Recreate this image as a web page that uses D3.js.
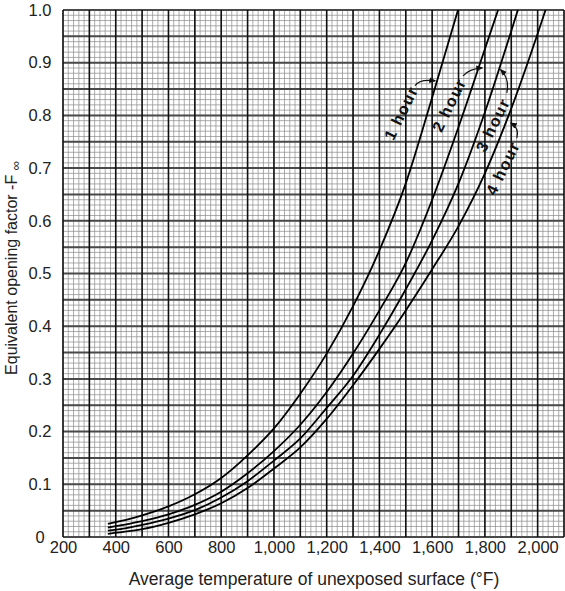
<!DOCTYPE html>
<html lang="en">
<head>
  <meta charset="UTF-8">
  <title>Equivalent opening factor</title>
  <style>
    body { margin: 0; background: #fff; }
    .axis text {
      font-family: "Liberation Sans", Arial, sans-serif;
      font-size: 16.5px;
      fill: #222;
    }
    .axis path { display: none; }
    .title {
      font-family: "Liberation Sans", Arial, sans-serif;
      fill: #222;
    }
    .curve-label {
      font-family: "Liberation Sans", Arial, sans-serif;
      font-size: 16px;
      font-weight: bold;
      fill: #111;
      text-anchor: middle;
    }
  </style>
</head>
<body>
  <div id="chart"></div>
  <script src="https://cdnjs.cloudflare.com/ajax/libs/d3/7.8.5/d3.min.js"></script>
  <script>
    // temperatures (°F) and F values
    var temp1 = [370, 450, 500, 600, 700, 800, 900, 1000, 1100, 1200, 1300, 1400, 1500, 1600, 1698]
    var fac1 = [0.025, 0.034, 0.041, 0.058, 0.081, 0.112, 0.155, 0.206, 0.272, 0.348, 0.438, 0.544, 0.671, 0.834, 1.0]
    var temp2 = [370, 450, 500, 600, 700, 800, 900, 1000, 1100, 1200, 1300, 1400, 1500, 1600, 1700, 1800, 1850]
    var fac2 = [0.018, 0.025, 0.030, 0.043, 0.061, 0.086, 0.121, 0.163, 0.213, 0.275, 0.348, 0.43, 0.52, 0.64, 0.778, 0.926, 1.0]
    var temp3 = [370, 450, 500, 600, 700, 800, 900, 1000, 1100, 1200, 1300, 1400, 1500, 1600, 1700, 1800, 1900, 1925]
    var fac3 = [0.012, 0.018, 0.023, 0.035, 0.051, 0.075, 0.106, 0.145, 0.187, 0.245, 0.306, 0.384, 0.47, 0.563, 0.671, 0.806, 0.96, 1.0]
    var temp4 = [370, 450, 500, 600, 700, 800, 900, 1000, 1100, 1200, 1300, 1400, 1500, 1600, 1700, 1800, 1900, 2000, 2030]
    var fac4 = [0.006, 0.011, 0.015, 0.027, 0.043, 0.064, 0.093, 0.13, 0.17, 0.224, 0.288, 0.357, 0.43, 0.508, 0.59, 0.69, 0.813, 0.955, 1.0]

    var seriesNames = ['1 hour', '2 hour', '3 hour', '4 hour']
    var xTicks = [200, 400, 600, 800, 1000, 1200, 1400, 1600, 1800, 2000]
    var yTicks = [0, 0.1, 0.2, 0.3, 0.4, 0.5, 0.6, 0.7, 0.8, 0.9, 1.0]

    // where the hand lettered labels sit, in data units
    var labelTemp = [1482, 1664, 1830, 1868]
    var labelFac = [0.805, 0.82, 0.782, 0.70]

    var width = 565
    var height = 591
    var padding = {left: 63, right: 1, top: 10, bottom: 54}

    var svg = d3.select('#chart')
      .append('svg')
      .attr('width', width)
      .attr('height', height)

    var xScale = d3.scaleLinear()
      .domain([200, 2100])
      .range([padding.left, width - padding.right])
    var yScale = d3.scaleLinear()
      .domain([0, 1])
      .range([height - padding.bottom, padding.top])

    var x0 = xScale.range()[0], x1 = xScale.range()[1]
    var y0 = yScale.range()[0], y1 = yScale.range()[1]

    // graph paper: fine lines every 20°F / 0.01, heavy every 100°F / 0.05
    var grid = svg.append('g').attr('class', 'grid')
    var minorX = d3.range(0, 96).map(function (i) { return 200 + i * 20 })
    var minorY = d3.range(0, 101).map(function (i) { return i / 100 })
    var majorX = d3.range(0, 20).map(function (i) { return 200 + i * 100 })
    var majorY = d3.range(0, 21).map(function (i) { return i / 20 })

    grid.selectAll('.minx').data(minorX).enter().append('line')
      .attr('x1', function (d) { return xScale(d) })
      .attr('x2', function (d) { return xScale(d) })
      .attr('y1', y0).attr('y2', y1)
      .attr('stroke', '#8a8a8a').attr('stroke-width', 0.7)
    grid.selectAll('.miny').data(minorY).enter().append('line')
      .attr('y1', function (d) { return yScale(d) })
      .attr('y2', function (d) { return yScale(d) })
      .attr('x1', x0).attr('x2', x1)
      .attr('stroke', '#8a8a8a').attr('stroke-width', 0.7)
    grid.selectAll('.majy').data(majorY).enter().append('line')
      .attr('y1', function (d) { return yScale(d) })
      .attr('y2', function (d) { return yScale(d) })
      .attr('x1', x0).attr('x2', x1)
      .attr('stroke', '#4a4a4a').attr('stroke-width', 2)
    grid.selectAll('.majx').data(majorX).enter().append('line')
      .attr('x1', function (d) { return xScale(d) })
      .attr('x2', function (d) { return xScale(d) })
      .attr('y1', y0).attr('y2', y1)
      .attr('stroke', '#111').attr('stroke-width', 1.6)

    // curves
    var series = [
      {name: seriesNames[0], t: temp1, f: fac1},
      {name: seriesNames[1], t: temp2, f: fac2},
      {name: seriesNames[2], t: temp3, f: fac3},
      {name: seriesNames[3], t: temp4, f: fac4}
    ]
    var line = d3.line()
      .x(function (d) { return xScale(d[0]) })
      .y(function (d) { return yScale(d[1]) })
      .curve(d3.curveMonotoneX)

    svg.selectAll('.curve')
      .data(series)
      .enter()
      .append('path')
      .attr('class', 'curve')
      .attr('fill', 'none')
      .attr('stroke', '#000')
      .attr('stroke-width', 1.8)
      .attr('d', function (s) {
        return line(s.t.map(function (t, i) { return [t, s.f[i]] }))
      })

    // axes
    var xAxis = d3.axisBottom(xScale)
      .tickValues(xTicks)
      .tickSize(0)
      .tickPadding(4)
      .tickFormat(d3.format(','))
    var yAxis = d3.axisLeft(yScale)
      .tickValues(yTicks)
      .tickSize(0)
      .tickFormat(function (d) { return d === 0 ? '0' : d3.format('.1f')(d) })

    svg.append('g')
      .attr('class', 'axis')
      .attr('transform', 'translate(0,' + y0 + ')')
      .call(xAxis)
    svg.append('g')
      .attr('class', 'axis')
      .attr('transform', 'translate(' + x0 + ',0)')
      .call(yAxis)
      .selectAll('text')
      .attr('text-anchor', 'middle')
      .attr('x', -23)

    svg.append('text')
      .attr('class', 'title')
      .attr('x', 314)
      .attr('y', 585)
      .attr('font-size', '17.5px')
      .attr('text-anchor', 'middle')
      .text('Average temperature of unexposed surface (°F)')

    var yTitle = svg.append('text')
      .attr('class', 'title')
      .attr('font-size', '16px')
      .attr('transform', 'translate(17,268) rotate(-90)')
      .attr('text-anchor', 'middle')
    yTitle.append('tspan').text('Equivalent opening factor -F ')
    yTitle.append('tspan').attr('font-size', '13px').attr('dy', 3).text('∞')

    // curve labels with small hooked arrows
    svg.append('defs').append('marker')
      .attr('id', 'head')
      .attr('viewBox', '0 0 10 10')
      .attr('refX', 8).attr('refY', 5)
      .attr('markerWidth', 6).attr('markerHeight', 6)
      .attr('orient', 'auto')
      .append('path')
      .attr('d', 'M0,1 L10,5 L0,9 z')
      .attr('fill', '#111')

    var arrows = [
      'M14,-27 Q18,-34 34,-32',
      'M14,-29 Q20,-36 33,-37',
      'M14,-32 Q17,-46 8,-55',
      'M14,-30 Q17,-40 8,-45'
    ]
    var labels = svg.selectAll('.lab')
      .data(series)
      .enter()
      .append('g')
      .attr('transform', function (s, i) {
        return 'translate(' + xScale(labelTemp[i]) + ',' + yScale(labelFac[i]) + ')'
      })
    labels.append('text')
      .attr('class', 'curve-label')
      .attr('transform', 'rotate(-64)')
      .attr('dy', '0.35em')
      .attr('letter-spacing', 1.5)
      .text(function (s) { return s.name })
    labels.append('path')
      .attr('d', function (s, i) { return arrows[i] })
      .attr('fill', 'none')
      .attr('stroke', '#111')
      .attr('stroke-width', 1.2)
      .attr('marker-end', 'url(#head)')
  </script>
</body>
</html>
